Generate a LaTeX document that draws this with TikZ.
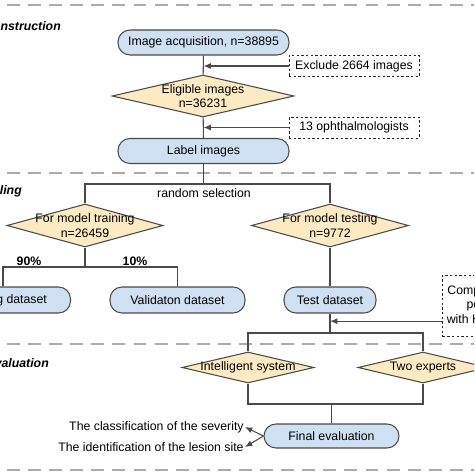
\documentclass[tikz,border=0pt]{standalone}
\usepackage{fontspec}
\setmainfont{Liberation Sans}
\usepackage{tikz}
\usetikzlibrary{calc, shapes.geometric, arrows.meta}
\definecolor{boxblue}{HTML}{CFE0F2}
\definecolor{boxyellow}{HTML}{FCEBC2}
\definecolor{edgegray}{HTML}{4A4A4A}
\definecolor{sepgray}{HTML}{ABABAB}
\tikzstyle{process}  = [rectangle, rounded corners=0.36cm, minimum height=0.75cm, text centered, draw=edgegray, line width=0.9pt, fill=boxblue]
\tikzstyle{decision} = [diamond, inner sep=0pt, text centered, align=center, draw=edgegray, line width=0.9pt, fill=boxyellow]
\tikzstyle{note}     = [rectangle, minimum width=3.9cm, minimum height=0.65cm, text centered, draw=black!85, dash pattern=on 2pt off 2pt, line width=0.8pt]
\tikzstyle{flow}     = [draw=edgegray, line width=0.9pt]
\tikzstyle{arrow}    = [flow, -{Latex[length=2.2mm,width=1.8mm]}]
\tikzstyle{sep}      = [draw=sepgray, line width=1.7pt, dash pattern=on 11pt off 7pt, dash phase=-6pt]
\tikzstyle{stage}    = [font=\bfseries\itshape, anchor=east, inner sep=0pt]
\newcommand{\nobox}[1]{\makebox[0pt]{#1}}

\begin{document}
\fontsize{10.5}{12.5}\selectfont
\begin{tikzpicture}[x=0.03cm, y=-0.03cm]
    \useasboundingbox (0,0) rectangle (474,474);
    \clip (0,0) rectangle (474,474);

    % stage separators
    \draw [sep] (0,5)   -- (474,5);
    \draw [sep] (0,173) -- (474,173);
    \draw [sep] (0,344) -- (474,344);
    \draw [sep] (0,470) -- (474,470);
    \node (s1) [stage] at (61,26)  {Construction};
    \node (s2) [stage] at (22,191) {Modelling};
    \node (s3) [stage] at (49,363) {Evaluation};

    \node (acq)   [process, minimum width=5.13cm] at (203.5,42.5) {Image acquisition, n=38895};
    \node (excl)  [note] at (354,66) {Exclude 2664 images};
    \node (elig)  [decision, minimum width=5.46cm, minimum height=1.26cm] at (203,96) {\nobox{Eligible images}\\\nobox{n=36231}};
    \node (oph)   [note, minimum height=0.63cm] at (354,127.5) {13 ophthalmologists};
    \node (lab)   [process, minimum width=5.13cm] at (203.5,151) {Label images};

    \node (rand)  at (204,193) {random selection};
    \node (train) [decision, minimum width=4.68cm, minimum height=1.29cm] at (85,225.5) {\nobox{For model training}\\\nobox{n=26459}};
    \node (test)  [decision, minimum width=4.71cm, minimum height=1.29cm] at (330,225.5) {\nobox{For model testing}\\\nobox{n=9772}};
    \node (p90)   [font=\bfseries] at (29,261)  {90\%};
    \node (p10)   [font=\bfseries] at (135,261) {10\%};
    \node (tds)   [process, minimum width=4.05cm, minimum height=0.78cm] at (3,300)     {Training dataset};
    \node (val)   [process, minimum width=4.05cm, minimum height=0.78cm] at (177.5,300) {Validaton dataset};
    \node (tst)   [process, minimum width=2.76cm, minimum height=0.78cm] at (330,300)   {Test dataset};
    \node (comp)  [note, anchor=west, align=center, minimum width=0pt, inner xsep=0.13cm, minimum height=1.83cm] at (442,305.5) {Comparison of their\\performance\\with Human experts};

    \node (ai)    [decision, minimum width=3.96cm, minimum height=0.93cm] at (248,367.5) {\nobox{Intelligent system}};
    \node (exp)   [decision, minimum width=3.9cm, minimum height=0.93cm] at (423,367.5) {\nobox{Two experts}};
    \node (final) [process, minimum width=4.05cm, minimum height=0.72cm] at (331.5,436) {Final evaluation};
    \node (cls)   [anchor=east, inner sep=1pt] at (245,427) {The classification of the severity};
    \node (idn)   [anchor=east, inner sep=1pt] at (245,447) {The identification of the lesion site};

    \coordinate (split)  at (203.5,184);
    \coordinate (tsplit) at (85,267);
    \coordinate (esplit) at (330,333);
    \coordinate (emerge) at (331.5,404);
    \coordinate (cin)    at ([yshift=-0.47cm]comp.west);

    \draw [flow] (acq) -- (elig);
    \draw [flow] (elig) -- (lab);
    \draw [flow] (lab) -- (split);
    \draw [flow] (train.north) |- (split) -| (test.north);
    \draw [flow] (train) -- (tsplit);
    \draw [flow] (tds.north) |- (tsplit) -| (val.north);
    \draw [flow] (test) -- (tst);
    \draw [flow] (tst) -- (esplit);
    \draw [flow] (ai.north) |- (esplit) -| (exp.north);
    \draw [flow] (ai.south) |- (emerge) -| (exp.south);
    \draw [flow] (emerge) -- (final);

    \draw [arrow] (excl.west) -- (excl.west -| acq);
    \draw [arrow] (oph.west) -- (oph.west -| lab);
    \draw [arrow] (cin) -- (cin -| tst);
    \draw [arrow] (final.west) -- (cls.east);
    \draw [arrow] (final.west) -- (idn.east);
\end{tikzpicture}
\end{document}
